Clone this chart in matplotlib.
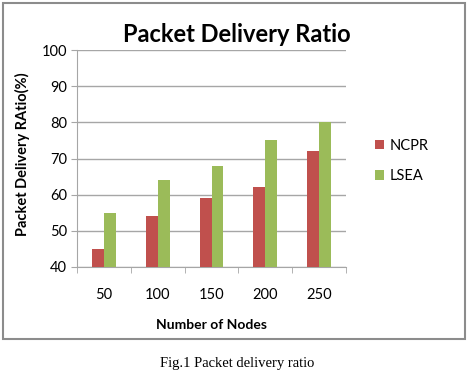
import matplotlib
matplotlib.use("Agg")
import matplotlib.pyplot as plt
from matplotlib.patches import Rectangle
from matplotlib.ticker import FixedLocator
import numpy as np

# data
nodes = ["50", "100", "150", "200", "250"]
ncpr = [45, 54, 59, 62, 72]
lsea = [55, 64, 68, 75, 80]
y_ticks = [40, 50, 60, 70, 80, 90, 100]

red = "#C0504D"
green = "#9BBB59"
grid_gray = "#A6A6A6"

plt.rcParams["font.family"] = ["Lato", "DejaVu Sans"]

fig = plt.figure(figsize=(4.74, 3.72), dpi=100)
W, H = 474, 372

# outer chart border
fig.patches.append(Rectangle((3 / W, 1 - 339 / H), 462 / W, 336 / H,
                             transform=fig.transFigure, fill=False,
                             edgecolor="#8C8C8C", linewidth=1.5))

ax = fig.add_axes([77 / W, 1 - 267 / H, 269 / W, 217 / H])

x = np.arange(len(nodes))
bw = 0.22
ax.bar(x - bw / 2, ncpr, width=bw, color=red, label="NCPR", zorder=3)
ax.bar(x + bw / 2, lsea, width=bw, color=green, label="LSEA", zorder=3)

ax.set_xlim(-0.5, len(nodes) - 0.5)
ax.set_ylim(40, 100)
ax.set_yticks(y_ticks)
ax.yaxis.grid(True, color=grid_gray, linewidth=1, zorder=0)

ax.set_xticks(x)
ax.set_xticklabels(nodes)
ax.xaxis.set_minor_locator(FixedLocator(np.arange(-0.5, len(nodes), 1.0)))
ax.tick_params(axis="x", which="major", length=0, pad=15, labelsize=10.5)
ax.tick_params(axis="x", which="minor", length=4, color=grid_gray)
ax.tick_params(axis="y", length=4, color=grid_gray, pad=3, labelsize=10.5)

for side in ["top", "right"]:
    ax.spines[side].set_visible(False)
for side in ["left", "bottom"]:
    ax.spines[side].set_color(grid_gray)

fig.text(237 / W, 1 - 35 / H, "Packet Delivery Ratio", ha="center",
         va="center", fontsize=17, fontweight="bold")
fig.text(22 / W, 1 - 154 / H, "Packet Delivery RAtio(%)", rotation=90,
         ha="center", va="center", fontsize=10.5, fontweight="bold")
fig.text(211 / W, 1 - 325 / H, "Number of Nodes", ha="center",
         va="center", fontsize=10, fontweight="bold")

ax.legend(loc="center left", bbox_to_anchor=(362 / W, 1 - 161 / H),
          bbox_transform=fig.transFigure, frameon=False, fontsize=10.5,
          handlelength=0.6, handleheight=0.6, handletextpad=0.4,
          labelspacing=1.1)

# figure caption below the chart box
fig.text(237 / W, 2 / H, "Fig.1 Packet delivery ratio", ha="center",
         va="bottom", fontsize=10.5, family=["Liberation Serif"])

fig.savefig("out.png", dpi=100)
